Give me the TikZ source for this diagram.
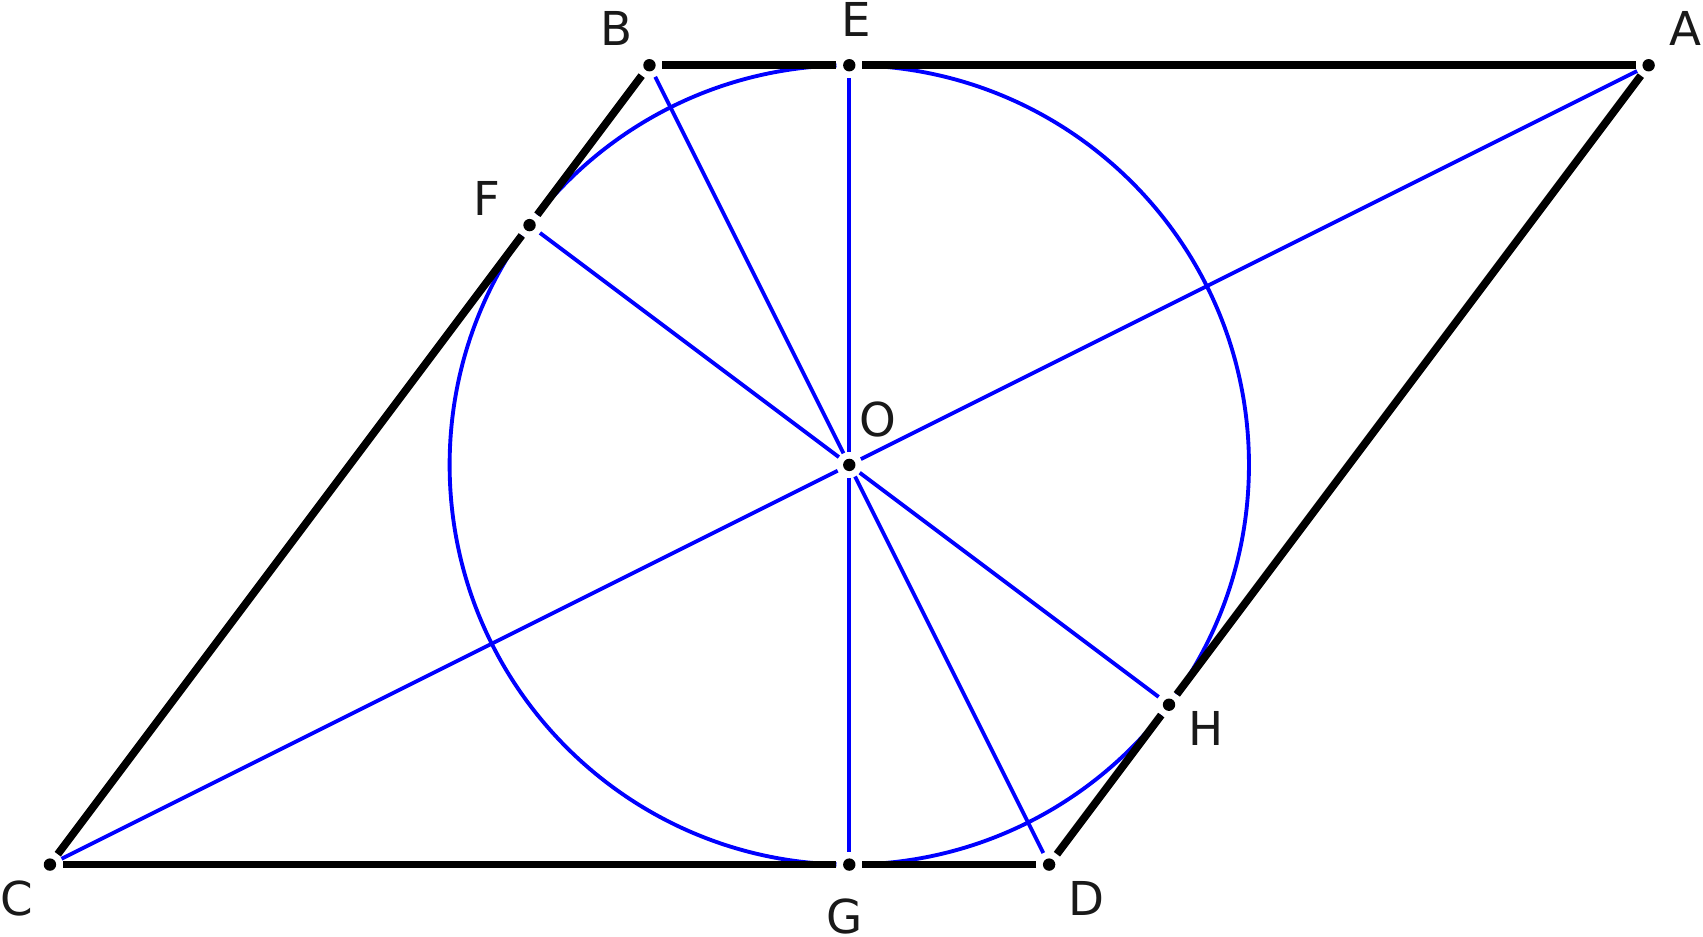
\documentclass[tikz,border=0pt]{standalone}
\usepackage{fontspec}
\setmainfont{DejaVu Sans}
\usetikzlibrary{positioning}

\begin{document}
\begin{tikzpicture}[
    pt/.style={circle, fill=white, inner sep=0pt, outer sep=0pt, minimum size=0.26cm,
      path picture={\fill [black] (path picture bounding box.center) circle (0.062);}},
    lbl/.style={inner sep=0pt, text=black!90, font=\fontsize{13.3}{16}\selectfont},
    side/.style={black, line width=2.2pt},
    ray/.style={blue, line width=1.1pt}]
    \useasboundingbox (-8.5,-4.715) rectangle (8.544,4.653);
    % incircle
    \draw [ray] (0,0) circle (4);
    % points
    \node [pt] (O) at (0,0) {};
    \node [pt] (A) at (8,4) {};
    \node [pt] (B) at (-2,4) {};
    \node [pt] (C) at (-8,-4) {};
    \node [pt] (D) at (2,-4) {};
    \node [pt] (E) at (0,4) {};
    \node [pt] (F) at (-3.2,2.4) {};
    \node [pt] (G) at (0,-4) {};
    \node [pt] (H) at (3.2,-2.4) {};
    % rhombus
    \draw [side] (B) -- (E);
    \draw [side] (E) -- (A);
    \draw [side] (A) -- (H);
    \draw [side] (H) -- (D);
    \draw [side] (D) -- (G);
    \draw [side] (G) -- (C);
    \draw [side] (C) -- (F);
    \draw [side] (F) -- (B);
    % segments from O
    \foreach \p in {A,B,C,D,E,F,G,H}
      \draw [ray] (O) -- (\p);
    % labels
    \node [lbl] (lA) at (8.372,4.369) {A};
    \node [lbl] (lB) at (-2.332,4.369) {B};
    \node [lbl] (lC) at (-8.333,-4.337) {C};
    \node [lbl] (lD) at (2.376,-4.337) {D};
    \node [lbl] (lE) at (0.067,4.46) {E};
    \node [lbl] (lF) at (-3.629,2.668) {F};
    \node [lbl] (lG) at (-0.043,-4.52) {G};
    \node [lbl] (lH) at (3.568,-2.636) {H};
    \node [lbl] (lO) at (0.29,0.457) {O};
\end{tikzpicture}
\end{document}
